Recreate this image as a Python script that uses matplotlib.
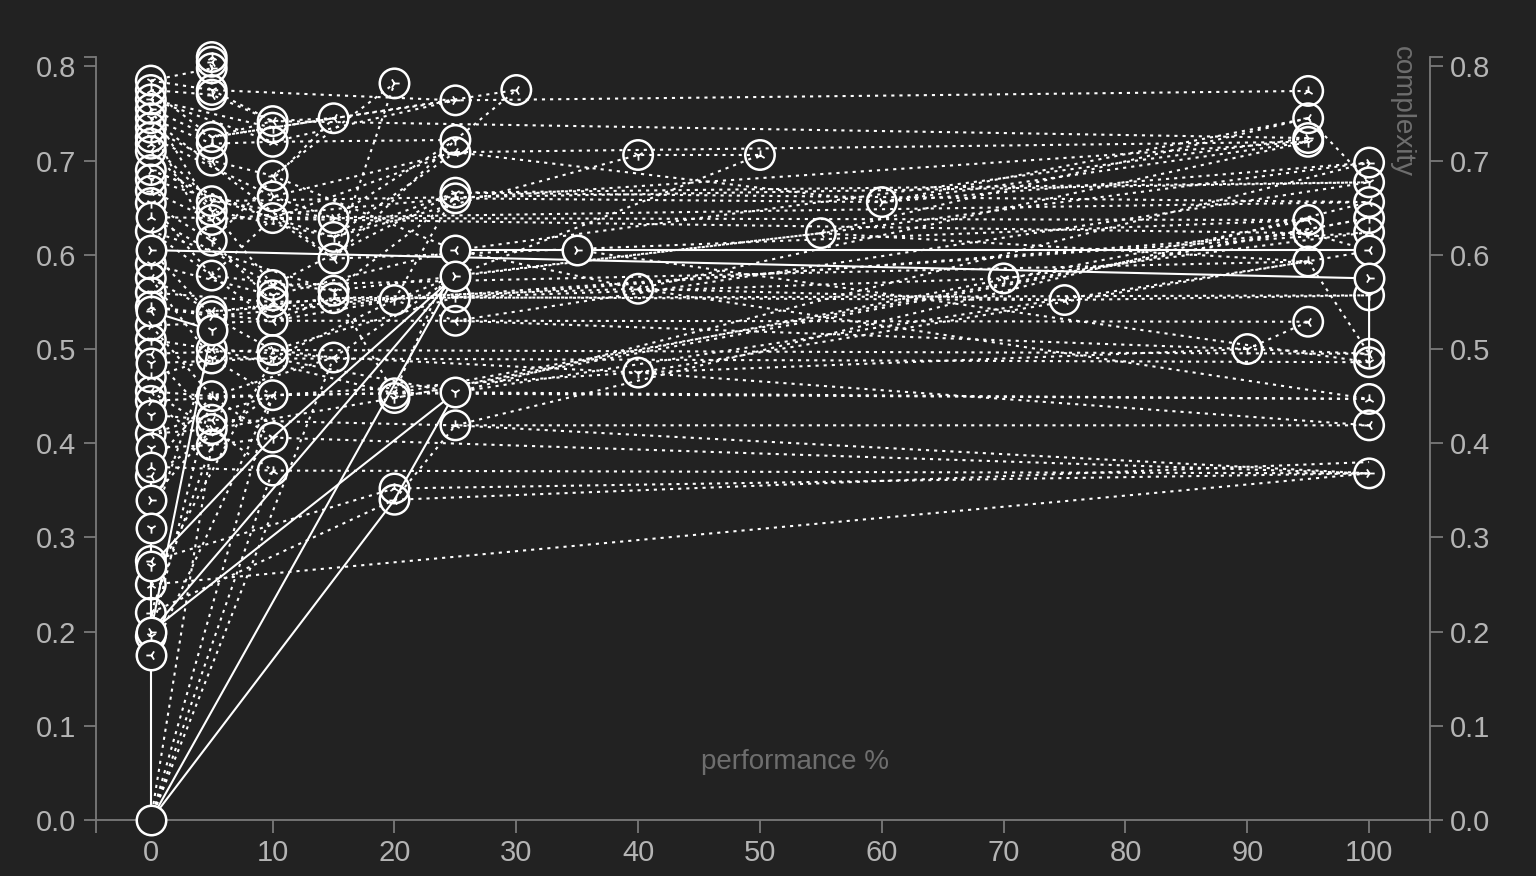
import matplotlib.pyplot as plt
from matplotlib.ticker import FixedLocator

# circles per performance column (complexity values)
perf_cols = [0, 5, 10, 15, 20, 25, 30, 35, 40, 50, 55, 60, 70, 75, 90, 95, 100]
complexity = {
    0: [0.785, 0.775, 0.765, 0.755, 0.745, 0.735, 0.725, 0.718, 0.71, 0.69, 0.68,
        0.668, 0.655, 0.64, 0.625, 0.605, 0.59, 0.575, 0.56, 0.545, 0.54, 0.525,
        0.51, 0.495, 0.485, 0.47, 0.455, 0.445, 0.43, 0.41, 0.395, 0.375, 0.365,
        0.34, 0.31, 0.275, 0.27, 0.25, 0.22, 0.2, 0.195, 0.175, 0.0],
    5: [0.81, 0.805, 0.798, 0.775, 0.77, 0.725, 0.718, 0.70, 0.657, 0.647, 0.637,
        0.615, 0.578, 0.54, 0.535, 0.52, 0.5, 0.49, 0.45, 0.425, 0.415, 0.398],
    10: [0.742, 0.735, 0.72, 0.684, 0.662, 0.639, 0.568, 0.557, 0.55, 0.53, 0.499,
         0.49, 0.451, 0.406, 0.371],
    15: [0.745, 0.639, 0.619, 0.596, 0.562, 0.554, 0.491],
    20: [0.782, 0.552, 0.453, 0.448, 0.352, 0.34],
    25: [0.764, 0.722, 0.709, 0.666, 0.66, 0.605, 0.578, 0.555, 0.53, 0.454, 0.419],
    30: [0.775],
    35: [0.605],
    40: [0.706, 0.564, 0.475],
    50: [0.706],
    55: [0.623],
    60: [0.656],
    70: [0.575],
    75: [0.552],
    90: [0.5],
    95: [0.774, 0.745, 0.724, 0.72, 0.637, 0.623, 0.593, 0.529],
    100: [0.698, 0.677, 0.656, 0.639, 0.624, 0.605, 0.575, 0.557, 0.495, 0.486,
          0.447, 0.419, 0.368],
}

# circles drawn with a solid (background) fill
filled = [(0, 0.64), (0, 0.605), (0, 0.54), (0, 0.485), (0, 0.43), (0, 0.395),
          (0, 0.375), (0, 0.34), (0, 0.31), (0, 0.27), (0, 0.2), (0, 0.175),
          (0, 0.0), (5, 0.52), (25, 0.605), (25, 0.578), (25, 0.454), (35, 0.605),
          (100, 0.605), (100, 0.575)]

# solid links
solid_paths = [
    [(0, 0.0), (0, 0.175), (0, 0.2), (0, 0.27), (0, 0.31), (0, 0.4)],
    [(0, 0.0), (20, 0.34), (25, 0.454)],
    [(0, 0.0), (25, 0.578)],
    [(0, 0.2), (25, 0.578)],
    [(0, 0.2), (25, 0.454)],
    [(0, 0.2), (5, 0.52), (0, 0.54)],
    [(0, 0.27), (10, 0.406), (25, 0.578)],
    [(0, 0.605), (100, 0.575), (100, 0.486)],
    [(25, 0.605), (35, 0.605), (100, 0.605)],
]

# dotted links
dotted_paths = [
    [(0, 0.785), (5, 0.775), (25, 0.764)],
    [(0, 0.775), (5, 0.77), (10, 0.742), (15, 0.745), (25, 0.764), (95, 0.774)],
    [(0, 0.755), (5, 0.725), (10, 0.742)],
    [(0, 0.765), (10, 0.735), (30, 0.775)],
    [(0, 0.745), (5, 0.718), (10, 0.72), (25, 0.722), (30, 0.775)],
    [(0, 0.735), (5, 0.70), (10, 0.684), (20, 0.782)],
    [(0, 0.725), (10, 0.662), (25, 0.709), (95, 0.72)],
    [(0, 0.718), (5, 0.657), (15, 0.639), (25, 0.722)],
    [(0, 0.71), (5, 0.647), (15, 0.619), (40, 0.706), (50, 0.706)],
    [(0, 0.69), (10, 0.639), (15, 0.596), (20, 0.782)],
    [(0, 0.68), (15, 0.619), (25, 0.666), (100, 0.677)],
    [(0, 0.668), (5, 0.637), (25, 0.66), (60, 0.656), (100, 0.698)],
    [(0, 0.655), (5, 0.615), (15, 0.745)],
    [(0, 0.64), (10, 0.568), (25, 0.666), (100, 0.656)],
    [(0, 0.625), (5, 0.578), (15, 0.562), (55, 0.623), (95, 0.745)],
    [(0, 0.59), (10, 0.557), (25, 0.605), (95, 0.724)],
    [(0, 0.575), (5, 0.54), (15, 0.554), (40, 0.564), (95, 0.72)],
    [(0, 0.56), (10, 0.55), (25, 0.555), (75, 0.552), (100, 0.557)],
    [(0, 0.545), (5, 0.535), (20, 0.552), (50, 0.706)],
    [(0, 0.525), (10, 0.53), (25, 0.53), (95, 0.529)],
    [(0, 0.51), (5, 0.5), (15, 0.491), (40, 0.475), (90, 0.5), (100, 0.495)],
    [(0, 0.495), (10, 0.499), (25, 0.555), (70, 0.575), (100, 0.624)],
    [(0, 0.47), (5, 0.49), (10, 0.49), (100, 0.486)],
    [(0, 0.455), (5, 0.45), (20, 0.453), (100, 0.639)],
    [(0, 0.445), (10, 0.451), (25, 0.454), (100, 0.447)],
    [(0, 0.43), (5, 0.425), (25, 0.419), (100, 0.419)],
    [(0, 0.41), (5, 0.415), (20, 0.448), (95, 0.637)],
    [(0, 0.395), (5, 0.398), (10, 0.406), (100, 0.368)],
    [(0, 0.375), (10, 0.371), (100, 0.368)],
    [(0, 0.365), (10, 0.451), (40, 0.475), (100, 0.419)],
    [(0, 0.275), (20, 0.352), (100, 0.368)],
    [(0, 0.25), (100, 0.368)],
    [(0, 0.22), (20, 0.34), (100, 0.38)],
    [(0, 0.0), (5, 0.398)],
    [(0, 0.0), (10, 0.371)],
    [(0, 0.0), (15, 0.491)],
    [(0, 0.0), (10, 0.451)],
    [(0, 0.175), (10, 0.451)],
    [(0, 0.195), (5, 0.45)],
    [(5, 0.81), (5, 0.775), (10, 0.742)],
    [(5, 0.725), (15, 0.745)],
    [(10, 0.72), (25, 0.764)],
    [(10, 0.684), (25, 0.605)],
    [(10, 0.662), (15, 0.639)],
    [(15, 0.619), (25, 0.709)],
    [(15, 0.596), (25, 0.722)],
    [(15, 0.562), (25, 0.66)],
    [(20, 0.552), (25, 0.666)],
    [(20, 0.453), (25, 0.605)],
    [(10, 0.53), (20, 0.552), (25, 0.53)],
    [(15, 0.491), (25, 0.578)],
    [(5, 0.5), (20, 0.453)],
    [(10, 0.49), (25, 0.454)],
    [(20, 0.34), (25, 0.419)],
    [(5, 0.578), (10, 0.639)],
    [(0, 0.785), (5, 0.798)],
    [(0, 0.775), (5, 0.725), (15, 0.745)],
    [(0, 0.765), (10, 0.72)],
    [(0, 0.755), (5, 0.647), (10, 0.568)],
    [(0, 0.745), (15, 0.596)],
    [(0, 0.735), (5, 0.615), (10, 0.55)],
    [(0, 0.69), (10, 0.639), (25, 0.709)],
    [(0, 0.655), (5, 0.578), (10, 0.53)],
    [(0, 0.625), (15, 0.562), (20, 0.453)],
    [(0, 0.605), (5, 0.535), (10, 0.499), (15, 0.491)],
    [(0, 0.575), (5, 0.49), (10, 0.451)],
    [(0, 0.545), (10, 0.53), (15, 0.554)],
    [(0, 0.525), (5, 0.45), (10, 0.406)],
    [(0, 0.495), (5, 0.425)],
    [(0, 0.485), (10, 0.49), (20, 0.552)],
    [(0, 0.455), (5, 0.415), (10, 0.371)],
    [(0, 0.445), (5, 0.398)],
    [(0, 0.41), (10, 0.451)],
    [(0, 0.375), (5, 0.45), (15, 0.491)],
    [(0, 0.34), (5, 0.415)],
    [(0, 0.31), (5, 0.5)],
    [(0, 0.25), (10, 0.49)],
    [(0, 0.22), (5, 0.398)],
    [(10, 0.742), (95, 0.724)],
    [(5, 0.657), (100, 0.677)],
    [(10, 0.639), (100, 0.656)],
    [(15, 0.639), (95, 0.637)],
    [(0, 0.64), (95, 0.623)],
    [(10, 0.568), (95, 0.593)],
    [(15, 0.554), (100, 0.557)],
    [(25, 0.53), (90, 0.5)],
    [(10, 0.499), (100, 0.495)],
    [(20, 0.453), (100, 0.447)],
    [(25, 0.419), (100, 0.368)],
    [(15, 0.596), (95, 0.637)],
    [(5, 0.54), (100, 0.624)],
    [(25, 0.454), (100, 0.698)],
    [(25, 0.709), (60, 0.656), (95, 0.745)],
    [(25, 0.66), (95, 0.72)],
    [(25, 0.578), (55, 0.623), (100, 0.698)],
    [(25, 0.555), (95, 0.623)],
    [(25, 0.53), (100, 0.677)],
    [(25, 0.454), (95, 0.593)],
    [(25, 0.419), (100, 0.656)],
    [(20, 0.448), (100, 0.639)],
    [(35, 0.605), (100, 0.486)],
    [(40, 0.564), (75, 0.552)],
    [(40, 0.475), (100, 0.604)],
    [(55, 0.623), (95, 0.593)],
    [(60, 0.656), (95, 0.72)],
    [(25, 0.605), (40, 0.564), (100, 0.447)],
    [(95, 0.745), (100, 0.677)],
    [(95, 0.593), (100, 0.495)],
    [(95, 0.623), (100, 0.605)],
    [(95, 0.529), (90, 0.5)],
]

bg = '#222222'
fig = plt.figure(figsize=(15.36, 8.76), dpi=100, facecolor=bg)
ax = fig.add_axes([0.0625, 0.0639, 0.8685, 0.871])
ax.set_facecolor(bg)
ax.set_xlim(-4.5, 105)
ax.set_ylim(0, 0.81)

for path in dotted_paths:
    xs, ys = zip(*path)
    ax.plot(xs, ys, color='white', lw=1.5, dashes=(1.5, 2.4),
            zorder=2, clip_on=False)

for path in solid_paths:
    xs, ys = zip(*path)
    ax.plot(xs, ys, color='white', lw=1.5, zorder=3, clip_on=False)

glyphs = ['1', '2', '3', '4', '1', '3']
k = 0
for p in perf_cols:
    for c in complexity[p]:
        fill = (p, c) in filled
        ax.scatter([p], [c], s=450, facecolor=bg if fill else 'none',
                   edgecolor='white', linewidth=1.8, zorder=5 if fill else 4,
                   clip_on=False)
        if c > 0:
            ax.scatter([p], [c], s=55, marker=glyphs[k % len(glyphs)],
                       color='white', linewidth=1.3, zorder=6, clip_on=False)
        k += 1

tick_col = '#7a7a7a'
lab_col = '#b4b4b4'
font = 'Liberation Sans'

ax.set_xticks(range(0, 101, 10))
ax.set_yticks([0.0, 0.1, 0.2, 0.3, 0.4, 0.5, 0.6, 0.7, 0.8])
ax.set_yticklabels(['0.0', '0.1', '0.2', '0.3', '0.4', '0.5', '0.6', '0.7', '0.8'])
ax.xaxis.set_minor_locator(FixedLocator([-4.5, 105]))
ax.yaxis.set_minor_locator(FixedLocator([0.81]))
for s in ['top', 'right']:
    ax.spines[s].set_visible(False)
for s in ['left', 'bottom']:
    ax.spines[s].set_color(tick_col)
    ax.spines[s].set_linewidth(1.3)
ax.tick_params(which='both', colors=tick_col, length=9, width=1.3,
               labelcolor=lab_col, labelsize=21, pad=5)
for lbl in ax.get_xticklabels() + ax.get_yticklabels():
    lbl.set_family(font)

ax2 = ax.twinx()
ax2.set_ylim(0, 0.81)
ax2.set_yticks([0.0, 0.1, 0.2, 0.3, 0.4, 0.5, 0.6, 0.7, 0.8])
ax2.set_yticklabels(['0.0', '0.1', '0.2', '0.3', '0.4', '0.5', '0.6', '0.7', '0.8'])
ax2.yaxis.set_minor_locator(FixedLocator([0.81]))
for s in ['top', 'left', 'bottom']:
    ax2.spines[s].set_visible(False)
ax2.spines['right'].set_color(tick_col)
ax2.spines['right'].set_linewidth(1.3)
ax2.tick_params(which='both', colors=tick_col, length=9, width=1.3,
                labelcolor=lab_col, labelsize=21, pad=5)
for lbl in ax2.get_yticklabels():
    lbl.set_family(font)

fig.text(795 / 1536, 1 - 762 / 876, 'performance %', color='#6e6e6e',
         fontsize=20, family=font, ha='center', va='center')
fig.text(1402 / 1536, 1 - 111 / 876, 'complexity', color='#6e6e6e',
         fontsize=20, family=font, ha='center', va='center', rotation=-90)

fig.savefig('out.png', dpi=100, facecolor=bg)
